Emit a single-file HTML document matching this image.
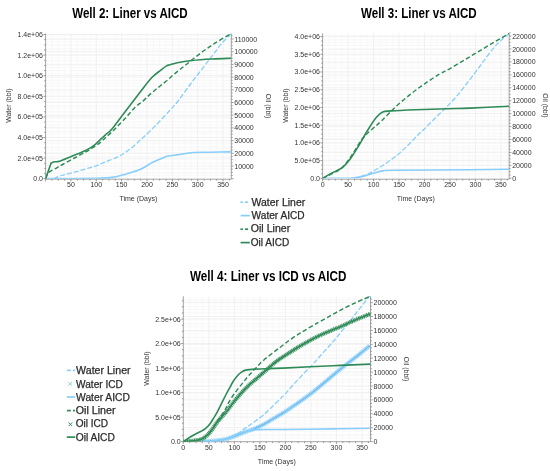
<!DOCTYPE html>
<html><head><meta charset="utf-8"><title>Well charts</title>
<style>html,body{margin:0;padding:0;background:#fff;width:550px;height:471px;overflow:hidden}svg{display:block}</style>
</head><body>
<svg width="550" height="471" viewBox="0 0 550 471" font-family="'Liberation Sans', Arial, sans-serif">
<defs>
<clipPath id="cp1"><rect x="45.6" y="32.5" width="185.7" height="146.2"/></clipPath>
<clipPath id="cp2"><rect x="322.6" y="32.3" width="186.6" height="146"/></clipPath>
<clipPath id="cp3"><rect x="183.3" y="295.3" width="187.2" height="146.3"/></clipPath>
</defs>
<rect width="550" height="471" fill="#fff"/>
<g font-size="14" font-weight="bold" fill="#000"><text x="72.2" y="17.8" textLength="115.5" lengthAdjust="spacingAndGlyphs">Well 2: Liner vs AICD</text><text x="361" y="17.6" textLength="115.7" lengthAdjust="spacingAndGlyphs">Well 3: Liner vs AICD</text><text x="190" y="280.7" textLength="156.4" lengthAdjust="spacingAndGlyphs">Well 4: Liner vs ICD vs AICD</text></g>
<path d="M51.94,33.5V179.2 M58.28,33.5V179.2 M64.61,33.5V179.2 M77.29,33.5V179.2 M83.62,33.5V179.2 M89.96,33.5V179.2 M102.64,33.5V179.2 M108.97,33.5V179.2 M115.31,33.5V179.2 M127.99,33.5V179.2 M134.32,33.5V179.2 M140.66,33.5V179.2 M153.34,33.5V179.2 M159.68,33.5V179.2 M166.01,33.5V179.2 M178.69,33.5V179.2 M185.03,33.5V179.2 M191.36,33.5V179.2 M204.04,33.5V179.2 M210.38,33.5V179.2 M216.71,33.5V179.2 M229.39,33.5V179.2 M45.6,173.55H231.3 M45.6,168.4H231.3 M45.6,163.25H231.3 M45.6,152.95H231.3 M45.6,147.8H231.3 M45.6,142.65H231.3 M45.6,132.35H231.3 M45.6,127.2H231.3 M45.6,122.05H231.3 M45.6,111.75H231.3 M45.6,106.6H231.3 M45.6,101.45H231.3 M45.6,91.15H231.3 M45.6,86H231.3 M45.6,80.85H231.3 M45.6,70.55H231.3 M45.6,65.4H231.3 M45.6,60.25H231.3 M45.6,49.95H231.3 M45.6,44.8H231.3 M45.6,39.65H231.3 M45.6,175.52H231.3 M45.6,172.35H231.3 M45.6,169.17H231.3 M45.6,162.82H231.3 M45.6,159.65H231.3 M45.6,156.47H231.3 M45.6,150.12H231.3 M45.6,146.95H231.3 M45.6,143.77H231.3 M45.6,137.42H231.3 M45.6,134.25H231.3 M45.6,131.07H231.3 M45.6,124.72H231.3 M45.6,121.55H231.3 M45.6,118.38H231.3 M45.6,112.02H231.3 M45.6,108.85H231.3 M45.6,105.67H231.3 M45.6,99.32H231.3 M45.6,96.15H231.3 M45.6,92.97H231.3 M45.6,86.62H231.3 M45.6,83.45H231.3 M45.6,80.27H231.3 M45.6,73.92H231.3 M45.6,70.75H231.3 M45.6,67.57H231.3 M45.6,61.22H231.3 M45.6,58.05H231.3 M45.6,54.88H231.3 M45.6,48.53H231.3 M45.6,45.35H231.3 M45.6,42.17H231.3 M45.6,35.82H231.3" stroke="#f7f7f7" stroke-width="0.8" fill="none"/>
<path d="M70.95,33.5V179.2 M96.3,33.5V179.2 M121.65,33.5V179.2 M147,33.5V179.2 M172.35,33.5V179.2 M197.7,33.5V179.2 M223.05,33.5V179.2 M45.6,158.1H231.3 M45.6,137.5H231.3 M45.6,116.9H231.3 M45.6,96.3H231.3 M45.6,75.7H231.3 M45.6,55.1H231.3 M45.6,34.5H231.3 M45.6,166H231.3 M45.6,153.3H231.3 M45.6,140.6H231.3 M45.6,127.9H231.3 M45.6,115.2H231.3 M45.6,102.5H231.3 M45.6,89.8H231.3 M45.6,77.1H231.3 M45.6,64.4H231.3 M45.6,51.7H231.3 M45.6,39H231.3" stroke="#efefef" stroke-width="0.9" fill="none"/>
<path d="M45.6,33.5V179.2H231.3V33.5" stroke="#9a9a9a" stroke-width="0.9" fill="none"/>
<path d="M43.4,178.7H45.6 M44.2,173.55H45.6 M44.2,168.4H45.6 M44.2,163.25H45.6 M43.4,158.1H45.6 M44.2,152.95H45.6 M44.2,147.8H45.6 M44.2,142.65H45.6 M43.4,137.5H45.6 M44.2,132.35H45.6 M44.2,127.2H45.6 M44.2,122.05H45.6 M43.4,116.9H45.6 M44.2,111.75H45.6 M44.2,106.6H45.6 M44.2,101.45H45.6 M43.4,96.3H45.6 M44.2,91.15H45.6 M44.2,86H45.6 M44.2,80.85H45.6 M43.4,75.7H45.6 M44.2,70.55H45.6 M44.2,65.4H45.6 M44.2,60.25H45.6 M43.4,55.1H45.6 M44.2,49.95H45.6 M44.2,44.8H45.6 M44.2,39.65H45.6 M43.4,34.5H45.6 M231.3,178.7H233.5 M231.3,175.52H232.7 M231.3,172.35H232.7 M231.3,169.17H232.7 M231.3,166H233.5 M231.3,162.82H232.7 M231.3,159.65H232.7 M231.3,156.47H232.7 M231.3,153.3H233.5 M231.3,150.12H232.7 M231.3,146.95H232.7 M231.3,143.77H232.7 M231.3,140.6H233.5 M231.3,137.42H232.7 M231.3,134.25H232.7 M231.3,131.07H232.7 M231.3,127.9H233.5 M231.3,124.72H232.7 M231.3,121.55H232.7 M231.3,118.38H232.7 M231.3,115.2H233.5 M231.3,112.02H232.7 M231.3,108.85H232.7 M231.3,105.67H232.7 M231.3,102.5H233.5 M231.3,99.32H232.7 M231.3,96.15H232.7 M231.3,92.97H232.7 M231.3,89.8H233.5 M231.3,86.62H232.7 M231.3,83.45H232.7 M231.3,80.27H232.7 M231.3,77.1H233.5 M231.3,73.92H232.7 M231.3,70.75H232.7 M231.3,67.57H232.7 M231.3,64.4H233.5 M231.3,61.22H232.7 M231.3,58.05H232.7 M231.3,54.88H232.7 M231.3,51.7H233.5 M231.3,48.53H232.7 M231.3,45.35H232.7 M231.3,42.17H232.7 M231.3,39H233.5 M231.3,35.82H232.7 M45.6,179.2V181.4 M51.94,179.2V180.6 M58.28,179.2V180.6 M64.61,179.2V180.6 M70.95,179.2V181.4 M77.29,179.2V180.6 M83.62,179.2V180.6 M89.96,179.2V180.6 M96.3,179.2V181.4 M102.64,179.2V180.6 M108.97,179.2V180.6 M115.31,179.2V180.6 M121.65,179.2V181.4 M127.99,179.2V180.6 M134.32,179.2V180.6 M140.66,179.2V180.6 M147,179.2V181.4 M153.34,179.2V180.6 M159.68,179.2V180.6 M166.01,179.2V180.6 M172.35,179.2V181.4 M178.69,179.2V180.6 M185.03,179.2V180.6 M191.36,179.2V180.6 M197.7,179.2V181.4 M204.04,179.2V180.6 M210.38,179.2V180.6 M216.71,179.2V180.6 M223.05,179.2V181.4 M229.39,179.2V180.6" stroke="#808080" stroke-width="0.8" fill="none"/>
<g font-size="7" fill="#333"><text x="43" y="181.2" text-anchor="end">0.0</text><text x="43" y="160.6" text-anchor="end">2.0e+05</text><text x="43" y="140" text-anchor="end">4.0e+05</text><text x="43" y="119.4" text-anchor="end">6.0e+05</text><text x="43" y="98.8" text-anchor="end">8.0e+05</text><text x="43" y="78.2" text-anchor="end">1.0e+06</text><text x="43" y="57.6" text-anchor="end">1.2e+06</text><text x="43" y="37" text-anchor="end">1.4e+06</text><text x="234.3" y="168.5">10000</text><text x="234.3" y="155.8">20000</text><text x="234.3" y="143.1">30000</text><text x="234.3" y="130.4">40000</text><text x="234.3" y="117.7">50000</text><text x="234.3" y="105">60000</text><text x="234.3" y="92.3">70000</text><text x="234.3" y="79.6">80000</text><text x="234.3" y="66.9">90000</text><text x="234.3" y="54.2">100000</text><text x="234.3" y="41.5">110000</text><text x="70.95" y="187.2" text-anchor="middle">50</text><text x="96.3" y="187.2" text-anchor="middle">100</text><text x="121.65" y="187.2" text-anchor="middle">150</text><text x="147" y="187.2" text-anchor="middle">200</text><text x="172.35" y="187.2" text-anchor="middle">250</text><text x="197.7" y="187.2" text-anchor="middle">300</text><text x="223.05" y="187.2" text-anchor="middle">350</text></g>
<g font-size="7" fill="#333" text-anchor="middle"><text transform="translate(8.6,105.7) rotate(-90)" y="2.4">Water (bbl)</text><text transform="translate(268.2,106) rotate(90)" y="2.4">Oil (bbl)</text><text x="138.4" y="200.5">Time (Days)</text></g>
<path d="M328.97,33.3V179.2 M335.34,33.3V179.2 M341.71,33.3V179.2 M354.44,33.3V179.2 M360.81,33.3V179.2 M367.18,33.3V179.2 M379.92,33.3V179.2 M386.29,33.3V179.2 M392.66,33.3V179.2 M405.39,33.3V179.2 M411.76,33.3V179.2 M418.13,33.3V179.2 M430.87,33.3V179.2 M437.24,33.3V179.2 M443.61,33.3V179.2 M456.34,33.3V179.2 M462.71,33.3V179.2 M469.08,33.3V179.2 M481.82,33.3V179.2 M488.19,33.3V179.2 M494.56,33.3V179.2 M507.29,33.3V179.2 M322.6,173.87H509.2 M322.6,169.44H509.2 M322.6,165.01H509.2 M322.6,156.15H509.2 M322.6,151.72H509.2 M322.6,147.29H509.2 M322.6,138.43H509.2 M322.6,134H509.2 M322.6,129.57H509.2 M322.6,120.71H509.2 M322.6,116.28H509.2 M322.6,111.85H509.2 M322.6,102.99H509.2 M322.6,98.56H509.2 M322.6,94.13H509.2 M322.6,85.27H509.2 M322.6,80.84H509.2 M322.6,76.41H509.2 M322.6,67.55H509.2 M322.6,63.12H509.2 M322.6,58.69H509.2 M322.6,49.83H509.2 M322.6,45.4H509.2 M322.6,40.97H509.2 M322.6,175.07H509.2 M322.6,171.84H509.2 M322.6,168.6H509.2 M322.6,162.14H509.2 M322.6,158.91H509.2 M322.6,155.67H509.2 M322.6,149.21H509.2 M322.6,145.98H509.2 M322.6,142.74H509.2 M322.6,136.28H509.2 M322.6,133.05H509.2 M322.6,129.81H509.2 M322.6,123.35H509.2 M322.6,120.12H509.2 M322.6,116.88H509.2 M322.6,110.42H509.2 M322.6,107.19H509.2 M322.6,103.95H509.2 M322.6,97.49H509.2 M322.6,94.26H509.2 M322.6,91.02H509.2 M322.6,84.56H509.2 M322.6,81.33H509.2 M322.6,78.09H509.2 M322.6,71.63H509.2 M322.6,68.4H509.2 M322.6,65.16H509.2 M322.6,58.7H509.2 M322.6,55.47H509.2 M322.6,52.23H509.2 M322.6,45.77H509.2 M322.6,42.54H509.2 M322.6,39.3H509.2" stroke="#f7f7f7" stroke-width="0.8" fill="none"/>
<path d="M348.08,33.3V179.2 M373.55,33.3V179.2 M399.03,33.3V179.2 M424.5,33.3V179.2 M449.98,33.3V179.2 M475.45,33.3V179.2 M500.93,33.3V179.2 M322.6,160.58H509.2 M322.6,142.86H509.2 M322.6,125.14H509.2 M322.6,107.42H509.2 M322.6,89.7H509.2 M322.6,71.98H509.2 M322.6,54.26H509.2 M322.6,36.54H509.2 M322.6,165.37H509.2 M322.6,152.44H509.2 M322.6,139.51H509.2 M322.6,126.58H509.2 M322.6,113.65H509.2 M322.6,100.72H509.2 M322.6,87.79H509.2 M322.6,74.86H509.2 M322.6,61.93H509.2 M322.6,49H509.2 M322.6,36.07H509.2" stroke="#efefef" stroke-width="0.9" fill="none"/>
<path d="M322.6,33.3V179.2H509.2V33.3" stroke="#9a9a9a" stroke-width="0.9" fill="none"/>
<path d="M320.4,178.3H322.6 M321.2,173.87H322.6 M321.2,169.44H322.6 M321.2,165.01H322.6 M320.4,160.58H322.6 M321.2,156.15H322.6 M321.2,151.72H322.6 M321.2,147.29H322.6 M320.4,142.86H322.6 M321.2,138.43H322.6 M321.2,134H322.6 M321.2,129.57H322.6 M320.4,125.14H322.6 M321.2,120.71H322.6 M321.2,116.28H322.6 M321.2,111.85H322.6 M320.4,107.42H322.6 M321.2,102.99H322.6 M321.2,98.56H322.6 M321.2,94.13H322.6 M320.4,89.7H322.6 M321.2,85.27H322.6 M321.2,80.84H322.6 M321.2,76.41H322.6 M320.4,71.98H322.6 M321.2,67.55H322.6 M321.2,63.12H322.6 M321.2,58.69H322.6 M320.4,54.26H322.6 M321.2,49.83H322.6 M321.2,45.4H322.6 M321.2,40.97H322.6 M320.4,36.54H322.6 M509.2,178.3H511.4 M509.2,175.07H510.6 M509.2,171.84H510.6 M509.2,168.6H510.6 M509.2,165.37H511.4 M509.2,162.14H510.6 M509.2,158.91H510.6 M509.2,155.67H510.6 M509.2,152.44H511.4 M509.2,149.21H510.6 M509.2,145.98H510.6 M509.2,142.74H510.6 M509.2,139.51H511.4 M509.2,136.28H510.6 M509.2,133.05H510.6 M509.2,129.81H510.6 M509.2,126.58H511.4 M509.2,123.35H510.6 M509.2,120.12H510.6 M509.2,116.88H510.6 M509.2,113.65H511.4 M509.2,110.42H510.6 M509.2,107.19H510.6 M509.2,103.95H510.6 M509.2,100.72H511.4 M509.2,97.49H510.6 M509.2,94.26H510.6 M509.2,91.02H510.6 M509.2,87.79H511.4 M509.2,84.56H510.6 M509.2,81.33H510.6 M509.2,78.09H510.6 M509.2,74.86H511.4 M509.2,71.63H510.6 M509.2,68.4H510.6 M509.2,65.16H510.6 M509.2,61.93H511.4 M509.2,58.7H510.6 M509.2,55.47H510.6 M509.2,52.23H510.6 M509.2,49H511.4 M509.2,45.77H510.6 M509.2,42.54H510.6 M509.2,39.3H510.6 M509.2,36.07H511.4 M509.2,32.84H510.6 M322.6,179.2V181.4 M328.97,179.2V180.6 M335.34,179.2V180.6 M341.71,179.2V180.6 M348.08,179.2V181.4 M354.44,179.2V180.6 M360.81,179.2V180.6 M367.18,179.2V180.6 M373.55,179.2V181.4 M379.92,179.2V180.6 M386.29,179.2V180.6 M392.66,179.2V180.6 M399.03,179.2V181.4 M405.39,179.2V180.6 M411.76,179.2V180.6 M418.13,179.2V180.6 M424.5,179.2V181.4 M430.87,179.2V180.6 M437.24,179.2V180.6 M443.61,179.2V180.6 M449.98,179.2V181.4 M456.34,179.2V180.6 M462.71,179.2V180.6 M469.08,179.2V180.6 M475.45,179.2V181.4 M481.82,179.2V180.6 M488.19,179.2V180.6 M494.56,179.2V180.6 M500.93,179.2V181.4 M507.29,179.2V180.6" stroke="#808080" stroke-width="0.8" fill="none"/>
<g font-size="7" fill="#333"><text x="320" y="180.8" text-anchor="end">0.0</text><text x="320" y="163.08" text-anchor="end">5.0e+05</text><text x="320" y="145.36" text-anchor="end">1.0e+06</text><text x="320" y="127.64" text-anchor="end">1.5e+06</text><text x="320" y="109.92" text-anchor="end">2.0e+06</text><text x="320" y="92.2" text-anchor="end">2.5e+06</text><text x="320" y="74.48" text-anchor="end">3.0e+06</text><text x="320" y="56.76" text-anchor="end">3.5e+06</text><text x="320" y="39.04" text-anchor="end">4.0e+06</text><text x="512.2" y="180.8">0</text><text x="512.2" y="167.87">20000</text><text x="512.2" y="154.94">40000</text><text x="512.2" y="142.01">60000</text><text x="512.2" y="129.08">80000</text><text x="512.2" y="116.15">100000</text><text x="512.2" y="103.22">120000</text><text x="512.2" y="90.29">140000</text><text x="512.2" y="77.36">160000</text><text x="512.2" y="64.43">180000</text><text x="512.2" y="51.5">200000</text><text x="512.2" y="38.57">220000</text><text x="322.6" y="187.2" text-anchor="middle">0</text><text x="348.08" y="187.2" text-anchor="middle">50</text><text x="373.55" y="187.2" text-anchor="middle">100</text><text x="399.03" y="187.2" text-anchor="middle">150</text><text x="424.5" y="187.2" text-anchor="middle">200</text><text x="449.98" y="187.2" text-anchor="middle">250</text><text x="475.45" y="187.2" text-anchor="middle">300</text><text x="500.93" y="187.2" text-anchor="middle">350</text></g>
<g font-size="7" fill="#333" text-anchor="middle"><text transform="translate(285.5,105.7) rotate(-90)" y="2.4">Water (bbl)</text><text transform="translate(545,105.4) rotate(90)" y="2.4">Oil (bbl)</text><text x="415.8" y="200.9">Time (Days)</text></g>
<path d="M189.68,296.3V441.7 M196.06,296.3V441.7 M202.44,296.3V441.7 M215.21,296.3V441.7 M221.59,296.3V441.7 M227.97,296.3V441.7 M240.73,296.3V441.7 M247.11,296.3V441.7 M253.49,296.3V441.7 M266.26,296.3V441.7 M272.64,296.3V441.7 M279.02,296.3V441.7 M291.78,296.3V441.7 M298.16,296.3V441.7 M304.54,296.3V441.7 M317.31,296.3V441.7 M323.69,296.3V441.7 M330.07,296.3V441.7 M342.83,296.3V441.7 M349.21,296.3V441.7 M355.59,296.3V441.7 M368.36,296.3V441.7 M183.3,435.48H370.5 M183.3,429.35H370.5 M183.3,423.23H370.5 M183.3,410.98H370.5 M183.3,404.85H370.5 M183.3,398.73H370.5 M183.3,386.48H370.5 M183.3,380.35H370.5 M183.3,374.23H370.5 M183.3,361.98H370.5 M183.3,355.85H370.5 M183.3,349.73H370.5 M183.3,337.48H370.5 M183.3,331.35H370.5 M183.3,325.23H370.5 M183.3,312.98H370.5 M183.3,306.85H370.5 M183.3,300.73H370.5 M183.3,438.12H370.5 M183.3,434.65H370.5 M183.3,431.18H370.5 M183.3,424.23H370.5 M183.3,420.75H370.5 M183.3,417.28H370.5 M183.3,410.33H370.5 M183.3,406.85H370.5 M183.3,403.38H370.5 M183.3,396.43H370.5 M183.3,392.95H370.5 M183.3,389.48H370.5 M183.3,382.53H370.5 M183.3,379.05H370.5 M183.3,375.58H370.5 M183.3,368.62H370.5 M183.3,365.15H370.5 M183.3,361.68H370.5 M183.3,354.73H370.5 M183.3,351.25H370.5 M183.3,347.78H370.5 M183.3,340.83H370.5 M183.3,337.35H370.5 M183.3,333.88H370.5 M183.3,326.93H370.5 M183.3,323.45H370.5 M183.3,319.98H370.5 M183.3,313.02H370.5 M183.3,309.55H370.5 M183.3,306.08H370.5 M183.3,299.12H370.5" stroke="#f7f7f7" stroke-width="0.8" fill="none"/>
<path d="M208.83,296.3V441.7 M234.35,296.3V441.7 M259.88,296.3V441.7 M285.4,296.3V441.7 M310.93,296.3V441.7 M336.45,296.3V441.7 M361.98,296.3V441.7 M183.3,417.1H370.5 M183.3,392.6H370.5 M183.3,368.1H370.5 M183.3,343.6H370.5 M183.3,319.1H370.5 M183.3,427.7H370.5 M183.3,413.8H370.5 M183.3,399.9H370.5 M183.3,386H370.5 M183.3,372.1H370.5 M183.3,358.2H370.5 M183.3,344.3H370.5 M183.3,330.4H370.5 M183.3,316.5H370.5 M183.3,302.6H370.5" stroke="#efefef" stroke-width="0.9" fill="none"/>
<path d="M183.3,296.3V441.7H370.5V296.3" stroke="#9a9a9a" stroke-width="0.9" fill="none"/>
<path d="M181.1,441.6H183.3 M181.9,435.48H183.3 M181.9,429.35H183.3 M181.9,423.23H183.3 M181.1,417.1H183.3 M181.9,410.98H183.3 M181.9,404.85H183.3 M181.9,398.73H183.3 M181.1,392.6H183.3 M181.9,386.48H183.3 M181.9,380.35H183.3 M181.9,374.23H183.3 M181.1,368.1H183.3 M181.9,361.98H183.3 M181.9,355.85H183.3 M181.9,349.73H183.3 M181.1,343.6H183.3 M181.9,337.48H183.3 M181.9,331.35H183.3 M181.9,325.23H183.3 M181.1,319.1H183.3 M181.9,312.98H183.3 M181.9,306.85H183.3 M181.9,300.73H183.3 M370.5,441.6H372.7 M370.5,438.12H371.9 M370.5,434.65H371.9 M370.5,431.18H371.9 M370.5,427.7H372.7 M370.5,424.23H371.9 M370.5,420.75H371.9 M370.5,417.28H371.9 M370.5,413.8H372.7 M370.5,410.33H371.9 M370.5,406.85H371.9 M370.5,403.38H371.9 M370.5,399.9H372.7 M370.5,396.43H371.9 M370.5,392.95H371.9 M370.5,389.48H371.9 M370.5,386H372.7 M370.5,382.53H371.9 M370.5,379.05H371.9 M370.5,375.58H371.9 M370.5,372.1H372.7 M370.5,368.62H371.9 M370.5,365.15H371.9 M370.5,361.68H371.9 M370.5,358.2H372.7 M370.5,354.73H371.9 M370.5,351.25H371.9 M370.5,347.78H371.9 M370.5,344.3H372.7 M370.5,340.83H371.9 M370.5,337.35H371.9 M370.5,333.88H371.9 M370.5,330.4H372.7 M370.5,326.93H371.9 M370.5,323.45H371.9 M370.5,319.98H371.9 M370.5,316.5H372.7 M370.5,313.02H371.9 M370.5,309.55H371.9 M370.5,306.08H371.9 M370.5,302.6H372.7 M370.5,299.12H371.9 M183.3,441.7V443.9 M189.68,441.7V443.1 M196.06,441.7V443.1 M202.44,441.7V443.1 M208.83,441.7V443.9 M215.21,441.7V443.1 M221.59,441.7V443.1 M227.97,441.7V443.1 M234.35,441.7V443.9 M240.73,441.7V443.1 M247.11,441.7V443.1 M253.49,441.7V443.1 M259.88,441.7V443.9 M266.26,441.7V443.1 M272.64,441.7V443.1 M279.02,441.7V443.1 M285.4,441.7V443.9 M291.78,441.7V443.1 M298.16,441.7V443.1 M304.54,441.7V443.1 M310.93,441.7V443.9 M317.31,441.7V443.1 M323.69,441.7V443.1 M330.07,441.7V443.1 M336.45,441.7V443.9 M342.83,441.7V443.1 M349.21,441.7V443.1 M355.59,441.7V443.1 M361.98,441.7V443.9 M368.36,441.7V443.1" stroke="#808080" stroke-width="0.8" fill="none"/>
<g font-size="7" fill="#333"><text x="180.7" y="444.1" text-anchor="end">0.0</text><text x="180.7" y="419.6" text-anchor="end">5.0e+05</text><text x="180.7" y="395.1" text-anchor="end">1.0e+06</text><text x="180.7" y="370.6" text-anchor="end">1.5e+06</text><text x="180.7" y="346.1" text-anchor="end">2.0e+06</text><text x="180.7" y="321.6" text-anchor="end">2.5e+06</text><text x="373.5" y="444.1">0</text><text x="373.5" y="430.2">20000</text><text x="373.5" y="416.3">40000</text><text x="373.5" y="402.4">60000</text><text x="373.5" y="388.5">80000</text><text x="373.5" y="374.6">100000</text><text x="373.5" y="360.7">120000</text><text x="373.5" y="346.8">140000</text><text x="373.5" y="332.9">160000</text><text x="373.5" y="319">180000</text><text x="373.5" y="305.1">200000</text><text x="183.3" y="450" text-anchor="middle">0</text><text x="208.83" y="450" text-anchor="middle">50</text><text x="234.35" y="450" text-anchor="middle">100</text><text x="259.88" y="450" text-anchor="middle">150</text><text x="285.4" y="450" text-anchor="middle">200</text><text x="310.93" y="450" text-anchor="middle">250</text><text x="336.45" y="450" text-anchor="middle">300</text><text x="361.98" y="450" text-anchor="middle">350</text></g>
<g font-size="7" fill="#333" text-anchor="middle"><text transform="translate(147,368.6) rotate(-90)" y="2.4">Water (bbl)</text><text transform="translate(406.6,369) rotate(90)" y="2.4">Oil (bbl)</text><text x="276.8" y="464.1">Time (Days)</text></g>
<g clip-path="url(#cp1)" fill="none" stroke-linejoin="round"><path d="M45.6,178.5 C53.83,178.47 83.87,178.48 95,178.3 C106.13,178.12 107.18,178.13 112.4,177.4 C117.62,176.67 121.7,175.2 126.3,173.9 C130.9,172.6 135.6,171.53 140,169.6 C144.4,167.67 148.25,164.52 152.7,162.3 C157.15,160.08 164.37,157.3 166.7,156.3 C168.62,156.02 173.73,155.23 178.2,154.6 C182.67,153.97 188.2,152.9 193.5,152.5 C198.8,152.1 203.63,152.3 210,152.2 C216.37,152.1 228.08,151.95 231.7,151.9" stroke="#87cefa" stroke-width="1.6"/><path d="M53.8,178.7 C55.08,178.17 58.05,176.58 61.5,175.5 C64.95,174.42 70.15,173.38 74.5,172.2 C78.85,171.02 83.83,169.5 87.6,168.4 C91.37,167.3 94.1,166.7 97.1,165.6 C100.1,164.5 102.42,163.13 105.6,161.8 C108.78,160.47 113.02,159.1 116.2,157.6 C119.38,156.1 122.03,154.48 124.7,152.8 C127.37,151.12 129.72,149.53 132.2,147.5 C134.68,145.47 137.47,142.55 139.6,140.6 C141.73,138.65 142.43,138.22 145,135.8 C147.57,133.38 152.9,128.15 155,126.1 C157.1,124.05 155.07,126.18 157.6,123.5 C160.13,120.82 166.65,113.92 170.2,110 C173.75,106.08 175.47,104.42 178.9,100 C182.33,95.58 187.08,88.48 190.8,83.5 C194.52,78.52 197.73,74.57 201.2,70.1 C204.67,65.63 208.38,60.9 211.6,56.7 C214.82,52.5 217.22,48.77 220.5,44.9 C223.78,41.03 229.5,35.4 231.3,33.5" stroke="#87cefa" stroke-width="1.3" stroke-dasharray="5 2"/><path d="M45.6,178.7 C46.07,177.7 46.85,174.33 48.4,172.7 C49.95,171.07 52.55,170.27 54.9,168.9 C57.25,167.53 59.23,166.32 62.5,164.5 C65.77,162.68 70.67,160.08 74.5,158 C78.33,155.92 82.4,153.75 85.5,152 C88.6,150.25 90.57,149.13 93.1,147.5 C95.63,145.87 98.65,143.82 100.7,142.2 C102.75,140.58 103.1,139.93 105.4,137.8 C107.7,135.67 111.15,132.7 114.5,129.4 C117.85,126.1 122.08,121.67 125.5,118 C128.92,114.33 132,110.3 135,107.4 C138,104.5 141.1,102.68 143.5,100.6 C145.9,98.52 147.42,96.7 149.4,94.9 C151.38,93.1 153.55,91.33 155.4,89.8 C157.25,88.27 158.67,87.17 160.5,85.7 C162.33,84.23 164.13,82.92 166.4,81 C168.67,79.08 171.02,76.77 174.1,74.2 C177.18,71.63 180.63,69 184.9,65.6 C189.17,62.2 194.75,57.5 199.7,53.8 C204.65,50.1 209.33,46.78 214.6,43.4 C219.87,40.02 228.52,35.15 231.3,33.5" stroke="#2e8b57" stroke-width="1.45" stroke-dasharray="4.5 2.5"/><path d="M45.6,178.7 L51.1,162.9 C51.73,162.72 53.53,162.07 54.9,161.8 C56.27,161.53 56.57,162.2 59.3,161.3 C62.03,160.4 67.48,157.95 71.3,156.4 C75.12,154.85 78.93,153.47 82.2,152 C85.47,150.53 88.77,148.83 90.9,147.6 C93.03,146.37 92.58,146.73 95,144.6 C97.42,142.47 102.65,137.32 105.4,134.8 C108.15,132.28 108.25,133.3 111.5,129.5 C114.75,125.7 120.2,118.13 124.9,112 C129.6,105.87 135.25,98.4 139.7,92.7 C144.15,87 148.13,81.52 151.6,77.8 C155.07,74.08 158.02,72.38 160.5,70.4 C162.98,68.42 164.92,66.83 166.5,65.9 C168.08,64.97 168.2,65.33 170,64.8 C171.8,64.27 173.67,63.42 177.3,62.7 C180.93,61.98 186,61.12 191.8,60.5 C197.6,59.88 205.52,59.37 212.1,59 C218.68,58.63 228.1,58.42 231.3,58.3" stroke="#2e8b57" stroke-width="1.6"/></g>
<g clip-path="url(#cp2)" fill="none" stroke-linejoin="round"><path d="M322.6,178.3 C327.17,178.28 343.25,178.52 350,178.2 C356.75,177.88 359.1,177.25 363.1,176.4 C367.1,175.55 370.73,174.02 374,173.1 C377.27,172.18 379.43,171.37 382.7,170.9 C385.97,170.43 379.05,170.48 393.6,170.3 C408.15,170.12 450.77,169.97 470,169.8 C489.23,169.63 502.5,169.38 509,169.3" stroke="#87cefa" stroke-width="1.6"/><path d="M354.4,178.3 C356.58,177.62 362.78,176.33 367.5,174.2 C372.22,172.07 377.62,168.78 382.7,165.5 C387.78,162.22 393.75,157.92 398,154.5 C402.25,151.08 404.92,148.2 408.2,145 C411.48,141.8 414.97,138 417.7,135.3 C420.43,132.6 421.77,131.6 424.6,128.8 C427.43,126 431.42,121.75 434.7,118.5 C437.98,115.25 441.13,112.47 444.3,109.3 C447.47,106.13 450.27,103.38 453.7,99.5 C457.13,95.62 460.57,91.5 464.9,86 C469.23,80.5 474.75,73.03 479.7,66.5 C484.65,59.97 489.68,52.32 494.6,46.8 C499.52,41.28 506.77,35.63 509.2,33.4" stroke="#87cefa" stroke-width="1.3" stroke-dasharray="5 2"/><path d="M322.6,178.3 C324.18,177.53 328.83,175.48 332.1,173.7 C335.37,171.92 338.83,170.8 342.2,167.6 C345.57,164.4 348.95,159.3 352.3,154.5 C355.65,149.7 359.05,142.97 362.3,138.8 C365.55,134.63 368.6,132.48 371.8,129.5 C375,126.52 377.65,124.57 381.5,120.9 C385.35,117.23 390.2,111.83 394.9,107.5 C399.6,103.17 404.75,98.85 409.7,94.9 C414.65,90.95 419.65,87.27 424.6,83.8 C429.55,80.33 435.17,76.63 439.4,74.1 C443.63,71.57 445.75,71 450,68.6 C454.25,66.2 459.95,62.67 464.9,59.7 C469.85,56.73 474.75,53.77 479.7,50.8 C484.65,47.83 489.68,44.8 494.6,41.9 C499.52,39 506.77,34.82 509.2,33.4" stroke="#2e8b57" stroke-width="1.45" stroke-dasharray="4.5 2.5"/><path d="M322.6,178.3 C324.18,177.4 328.83,174.68 332.1,172.9 C335.37,171.12 339.18,169.92 342.2,167.6 C345.22,165.28 347.45,162.63 350.2,159 C352.95,155.37 355.82,150.55 358.7,145.8 C361.58,141.05 364.58,135.22 367.5,130.5 C370.42,125.78 373.67,120.58 376.2,117.5 C378.73,114.42 380.15,113.1 382.7,112 C385.25,110.9 386.03,111.27 391.5,110.9 C396.97,110.53 406.05,110.17 415.5,109.8 C424.95,109.43 439.12,108.98 448.2,108.7 C457.28,108.42 459.87,108.52 470,108.1 C480.13,107.68 502.5,106.52 509,106.2" stroke="#2e8b57" stroke-width="1.6"/></g>
<g clip-path="url(#cp3)" fill="none" stroke-linejoin="round"><path d="M203,441.5 C205,441.38 211.25,441.18 215,440.8 C218.75,440.42 222.5,439.87 225.5,439.2 C228.5,438.53 230.05,437.88 233,436.8 C235.95,435.72 239.8,433.98 243.2,432.7 C246.6,431.42 250.02,430.47 253.4,429.1 C256.78,427.73 260.12,426.28 263.5,424.5 C266.88,422.72 270.45,420.32 273.7,418.4 C276.95,416.48 279.75,415.03 283,413 C286.25,410.97 289.8,408.52 293.2,406.2 C296.6,403.88 300.68,401.03 303.4,399.1 C306.12,397.17 307.6,396.03 309.5,394.6 C311.4,393.17 312.13,392.67 314.8,390.5 C317.47,388.33 322.47,384.13 325.5,381.6 C328.53,379.07 329.87,377.9 333,375.3 C336.13,372.7 340.12,369.33 344.3,366 C348.48,362.67 353.87,358.7 358.1,355.3 C362.33,351.9 367.77,347.22 369.7,345.6" stroke="#87cefa" stroke-width="4.6" stroke-opacity="0.35"/><path d="M203,441.5 C205,441.38 211.25,441.18 215,440.8 C218.75,440.42 222.5,439.87 225.5,439.2 C228.5,438.53 230.05,437.88 233,436.8 C235.95,435.72 239.8,433.98 243.2,432.7 C246.6,431.42 250.02,430.47 253.4,429.1 C256.78,427.73 260.12,426.28 263.5,424.5 C266.88,422.72 270.45,420.32 273.7,418.4 C276.95,416.48 279.75,415.03 283,413 C286.25,410.97 289.8,408.52 293.2,406.2 C296.6,403.88 300.68,401.03 303.4,399.1 C306.12,397.17 307.6,396.03 309.5,394.6 C311.4,393.17 312.13,392.67 314.8,390.5 C317.47,388.33 322.47,384.13 325.5,381.6 C328.53,379.07 329.87,377.9 333,375.3 C336.13,372.7 340.12,369.33 344.3,366 C348.48,362.67 353.87,358.7 358.1,355.3 C362.33,351.9 367.77,347.22 369.7,345.6" stroke="#87cefa" stroke-width="4" stroke-dasharray="0.9 0.9"/><path d="M203,441.5 C205,441.38 211.25,441.18 215,440.8 C218.75,440.42 222.5,439.87 225.5,439.2 C228.5,438.53 230.05,437.88 233,436.8 C235.95,435.72 239.8,433.98 243.2,432.7 C246.6,431.42 250.02,430.47 253.4,429.1 C256.78,427.73 260.12,426.28 263.5,424.5 C266.88,422.72 270.45,420.32 273.7,418.4 C276.95,416.48 279.75,415.03 283,413 C286.25,410.97 289.8,408.52 293.2,406.2 C296.6,403.88 300.68,401.03 303.4,399.1 C306.12,397.17 307.6,396.03 309.5,394.6 C311.4,393.17 312.13,392.67 314.8,390.5 C317.47,388.33 322.47,384.13 325.5,381.6 C328.53,379.07 329.87,377.9 333,375.3 C336.13,372.7 340.12,369.33 344.3,366 C348.48,362.67 353.87,358.7 358.1,355.3 C362.33,351.9 367.77,347.22 369.7,345.6" stroke="#74bdf0" stroke-width="1.5"/><path d="M203,441.5 C205,441.38 211.33,441.17 215,440.8 C218.67,440.43 222,440.12 225,439.3 C228,438.48 229.97,437.08 233,435.9 C236.03,434.72 239.8,433.17 243.2,432.2 C246.6,431.23 250.85,430.53 253.4,430.1 C255.95,429.67 253.57,429.7 258.5,429.6 C263.43,429.5 270.58,429.62 283,429.5 C295.42,429.38 318.55,429.1 333,428.9 C347.45,428.7 363.58,428.4 369.7,428.3" stroke="#87cefa" stroke-width="1.6"/><path d="M203,441.5 C205,441.37 211.33,441.08 215,440.7 C218.67,440.32 221.67,440.05 225,439.2 C228.33,438.35 231.97,437.2 235,435.6 C238.03,434 240.82,431.28 243.2,429.6 C245.58,427.92 247.27,426.93 249.3,425.5 C251.33,424.07 253.03,422.77 255.4,421 C257.77,419.23 260.78,417.2 263.5,414.9 C266.22,412.6 268.8,410 271.7,407.2 C274.6,404.4 278.67,400.27 280.9,398.1 C283.13,395.93 282.98,396.5 285.1,394.2 C287.22,391.9 290.42,387.82 293.6,384.3 C296.78,380.78 301.02,376.4 304.2,373.1 C307.38,369.8 309.87,367.55 312.7,364.5 C315.53,361.45 318.37,357.97 321.2,354.8 C324.03,351.63 327.13,348.38 329.7,345.5 C332.27,342.62 334.17,340.4 336.6,337.5 C339.03,334.6 341.55,331.5 344.3,328.1 C347.05,324.7 350.35,320.6 353.1,317.1 C355.85,313.6 358.03,310.62 360.8,307.1 C363.57,303.58 368.22,297.85 369.7,296" stroke="#87cefa" stroke-width="1.3" stroke-dasharray="5 2"/><path d="M183.4,441.6 C185.15,441.45 190.93,441.08 193.9,440.7 C196.87,440.32 199.02,440.17 201.2,439.3 C203.38,438.43 205.18,437.12 207,435.5 C208.82,433.88 210.52,431.67 212.1,429.6 C213.68,427.53 214.93,425.17 216.5,423.1 C218.07,421.03 219.83,419.12 221.5,417.2 C223.17,415.28 224.78,413.73 226.5,411.6 C228.22,409.47 229.55,407.25 231.8,404.4 C234.05,401.55 237.38,397.48 240,394.5 C242.62,391.52 244.83,389.08 247.5,386.5 C250.17,383.92 252.82,381.78 256,379 C259.18,376.22 263.23,372.72 266.6,369.8 C269.97,366.88 272.97,363.97 276.2,361.5 C279.43,359.03 282.43,357.33 286,355 C289.57,352.67 293.83,349.8 297.6,347.5 C301.37,345.2 304.87,343.23 308.6,341.2 C312.33,339.17 316.27,337.07 320,335.3 C323.73,333.53 327.32,332.17 331,330.6 C334.68,329.03 338.42,327.52 342.1,325.9 C345.78,324.28 348.37,322.92 353.1,320.9 C357.83,318.88 367.6,314.98 370.5,313.8" stroke="#2e8b57" stroke-width="4.4" stroke-opacity="0.25"/><path d="M183.4,441.6 C185.15,441.45 190.93,441.08 193.9,440.7 C196.87,440.32 199.02,440.17 201.2,439.3 C203.38,438.43 205.18,437.12 207,435.5 C208.82,433.88 210.52,431.67 212.1,429.6 C213.68,427.53 214.93,425.17 216.5,423.1 C218.07,421.03 219.83,419.12 221.5,417.2 C223.17,415.28 224.78,413.73 226.5,411.6 C228.22,409.47 229.55,407.25 231.8,404.4 C234.05,401.55 237.38,397.48 240,394.5 C242.62,391.52 244.83,389.08 247.5,386.5 C250.17,383.92 252.82,381.78 256,379 C259.18,376.22 263.23,372.72 266.6,369.8 C269.97,366.88 272.97,363.97 276.2,361.5 C279.43,359.03 282.43,357.33 286,355 C289.57,352.67 293.83,349.8 297.6,347.5 C301.37,345.2 304.87,343.23 308.6,341.2 C312.33,339.17 316.27,337.07 320,335.3 C323.73,333.53 327.32,332.17 331,330.6 C334.68,329.03 338.42,327.52 342.1,325.9 C345.78,324.28 348.37,322.92 353.1,320.9 C357.83,318.88 367.6,314.98 370.5,313.8" stroke="#2e8b57" stroke-width="4" stroke-dasharray="0.9 0.9"/><path d="M183.4,441.6 C185.15,441.45 190.93,441.08 193.9,440.7 C196.87,440.32 199.02,440.17 201.2,439.3 C203.38,438.43 205.18,437.12 207,435.5 C208.82,433.88 210.52,431.67 212.1,429.6 C213.68,427.53 214.93,425.17 216.5,423.1 C218.07,421.03 219.83,419.12 221.5,417.2 C223.17,415.28 224.78,413.73 226.5,411.6 C228.22,409.47 229.55,407.25 231.8,404.4 C234.05,401.55 237.38,397.48 240,394.5 C242.62,391.52 244.83,389.08 247.5,386.5 C250.17,383.92 252.82,381.78 256,379 C259.18,376.22 263.23,372.72 266.6,369.8 C269.97,366.88 272.97,363.97 276.2,361.5 C279.43,359.03 282.43,357.33 286,355 C289.57,352.67 293.83,349.8 297.6,347.5 C301.37,345.2 304.87,343.23 308.6,341.2 C312.33,339.17 316.27,337.07 320,335.3 C323.73,333.53 327.32,332.17 331,330.6 C334.68,329.03 338.42,327.52 342.1,325.9 C345.78,324.28 348.37,322.92 353.1,320.9 C357.83,318.88 367.6,314.98 370.5,313.8" stroke="#2e8b57" stroke-width="1.6"/><path d="M183.4,441.6 C185.15,441.45 190.93,441.1 193.9,440.7 C196.87,440.3 199.02,440.1 201.2,439.2 C203.38,438.3 205.18,436.95 207,435.3 C208.82,433.65 210.52,431.43 212.1,429.3 C213.68,427.17 214.93,424.83 216.5,422.5 C218.07,420.17 219.92,417.72 221.5,415.3 C223.08,412.88 224.78,410.17 226,408 C227.22,405.83 227.35,404.77 228.8,402.3 C230.25,399.83 232.43,396.35 234.7,393.2 C236.97,390.05 240.13,386.27 242.4,383.4 C244.67,380.53 246.08,378.53 248.3,376 C250.52,373.47 253.05,370.92 255.7,368.2 C258.35,365.48 260.17,363.15 264.2,359.7 C268.23,356.25 275.25,351.07 279.9,347.5 C284.55,343.93 288.23,340.98 292.1,338.3 C295.97,335.62 299.42,333.65 303.1,331.4 C306.78,329.15 311.38,326.45 314.2,324.8 C317.02,323.15 317.2,323.07 320,321.5 C322.8,319.93 327.32,317.43 331,315.4 C334.68,313.37 338.42,311.23 342.1,309.3 C345.78,307.37 349.42,305.53 353.1,303.8 C356.78,302.07 361.3,300.17 364.2,298.9 C367.1,297.63 369.45,296.65 370.5,296.2" stroke="#2e8b57" stroke-width="1.45" stroke-dasharray="4.5 2.5"/><path d="M183.4,441.6 C184.35,440.97 187.13,439.03 189.1,437.8 C191.07,436.57 193.17,435.3 195.2,434.2 C197.23,433.1 199.6,432.13 201.3,431.2 C203,430.27 204.03,429.72 205.4,428.6 C206.77,427.48 208.15,426.2 209.5,424.5 C210.85,422.8 212.15,420.6 213.5,418.4 C214.85,416.2 216.23,413.85 217.6,411.3 C218.97,408.75 220.33,405.82 221.7,403.1 C223.07,400.38 224.62,397.28 225.8,395 C226.98,392.72 227.5,391.77 228.8,389.4 C230.1,387.03 232.05,383.2 233.6,380.8 C235.15,378.4 236.9,376.37 238.1,375 C239.3,373.63 239.55,373.42 240.8,372.6 C242.05,371.78 243.22,370.68 245.6,370.1 C247.98,369.52 248.87,369.43 255.1,369.1 C261.33,368.77 270.02,368.67 283,368.1 C295.98,367.53 318.42,366.37 333,365.7 C347.58,365.03 364.25,364.37 370.5,364.1" stroke="#2e8b57" stroke-width="1.6"/></g>
<g font-size="10" fill="#2a2a2a" stroke="#2a2a2a" stroke-width="0.25"><path d="M240.4,202.2H242.9" stroke="#87cefa" stroke-width="1.7"/><path d="M245,202.2H248.1" stroke="#87cefa" stroke-width="1.7"/><text x="251.6" y="205.6" textLength="53.6" lengthAdjust="spacingAndGlyphs">Water Liner</text><path d="M240.6,215.6H249.8" stroke="#87cefa" stroke-width="1.7"/><text x="251.6" y="219.2" textLength="53" lengthAdjust="spacingAndGlyphs">Water AICD</text><path d="M240.4,229.2H242.9" stroke="#2e8b57" stroke-width="1.7"/><path d="M245,229.2H248.1" stroke="#2e8b57" stroke-width="1.7"/><text x="250.8" y="232.3" textLength="39.4" lengthAdjust="spacingAndGlyphs">Oil Liner</text><path d="M240.6,242.6H249.8" stroke="#2e8b57" stroke-width="1.7"/><text x="250.8" y="245.5" textLength="38.5" lengthAdjust="spacingAndGlyphs">Oil AICD</text></g>
<g font-size="10" fill="#2a2a2a" stroke="#2a2a2a" stroke-width="0.25"><path d="M66.9,370.4H70.8" stroke="#87cefa" stroke-width="1.7"/><path d="M73,370.4H75.1" stroke="#87cefa" stroke-width="1.7"/><text x="76.1" y="374.2" textLength="54.5" lengthAdjust="spacingAndGlyphs">Water Liner</text><path d="M68.4,382.1l3.6,3.6M68.4,385.7l3.6,-3.6" stroke="#87cefa" stroke-width="1"/><text x="76.1" y="387.5" textLength="46.7" lengthAdjust="spacingAndGlyphs">Water ICD</text><path d="M66.8,397H75.2" stroke="#87cefa" stroke-width="1.7"/><text x="76.1" y="400.5" textLength="53.8" lengthAdjust="spacingAndGlyphs">Water AICD</text><path d="M66.9,410.6H70.8" stroke="#2e8b57" stroke-width="1.7"/><path d="M73,410.6H75.1" stroke="#2e8b57" stroke-width="1.7"/><text x="75.7" y="414" textLength="39.9" lengthAdjust="spacingAndGlyphs">Oil Liner</text><path d="M68.6,422.5l3.6,3.6M68.6,426.1l3.6,-3.6" stroke="#2e8b57" stroke-width="1"/><text x="75.7" y="427.2" textLength="32.4" lengthAdjust="spacingAndGlyphs">Oil ICD</text><path d="M66.8,437.1H75.2" stroke="#2e8b57" stroke-width="1.7"/><text x="75.7" y="440.7" textLength="39.2" lengthAdjust="spacingAndGlyphs">Oil AICD</text></g>
</svg>
</body></html>
